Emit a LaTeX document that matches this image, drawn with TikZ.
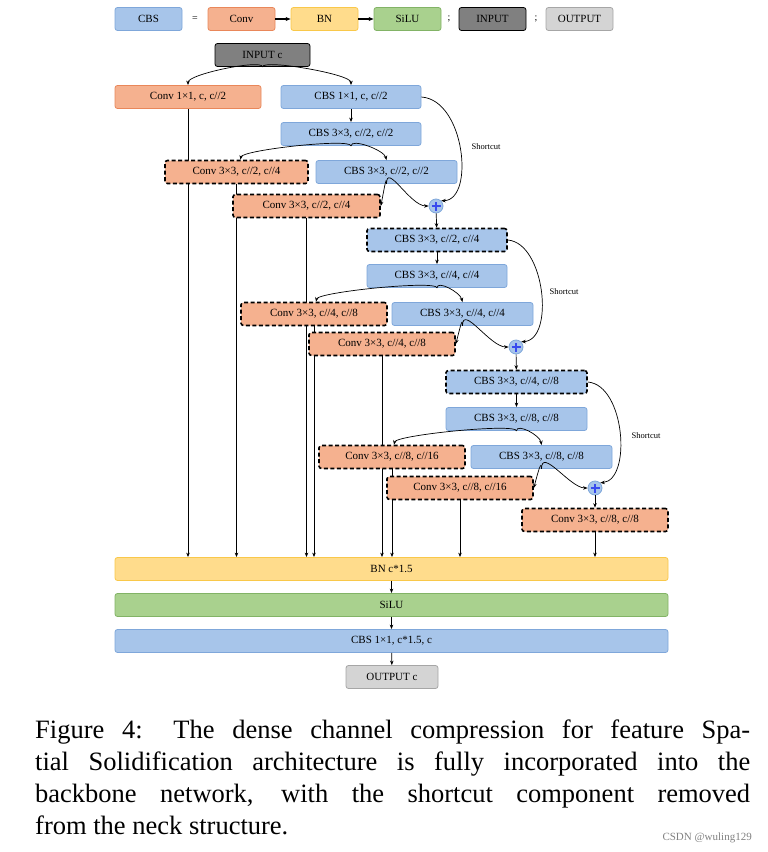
\documentclass[tikz,border=0pt]{standalone}
\usepackage{fontspec}
\setmainfont{Liberation Serif}
\usetikzlibrary{calc,backgrounds,arrows.meta}
\definecolor{bF}{HTML}{A7C5EA}\definecolor{bD}{HTML}{7FA7DA}
\definecolor{oF}{HTML}{F5B18F}\definecolor{oD}{HTML}{E9875A}
\definecolor{yF}{HTML}{FFDC8C}\definecolor{yD}{HTML}{F9C84A}
\definecolor{gF}{HTML}{A9D18E}\definecolor{gD}{HTML}{82B366}
\definecolor{kF}{HTML}{808080}\definecolor{lF}{HTML}{D4D4D4}\definecolor{lD}{HTML}{A6A6A6}
\tikzset{
 box/.style={rounded corners=2.5pt,minimum height=23pt,inner sep=0pt,font=\fontsize{11}{12}\selectfont,line width=0.8pt},
 cbs/.style={box,fill=bF,draw=bD},
 conv/.style={box,fill=oF,draw=oD},
 bn/.style={box,fill=yF,draw=yD},
 silu/.style={box,fill=gF,draw=gD},
 inp/.style={box,fill=kF,draw=black},
 outp/.style={box,fill=lF,draw=lD},
 dsh/.style={draw=black,dashed,dash pattern=on 4pt off 2.5pt,line width=1.6pt},
 arr/.style={-{Stealth[length=4.5pt,width=3.5pt]},line width=0.7pt},
 ln/.style={line width=0.7pt},
 plus/.style={circle,fill=bF,draw=bD,minimum size=14pt,inner sep=0pt,line width=0.8pt,
   path picture={\draw[line width=1.4pt,draw=blue!55!bD]([xshift=-4.5pt]path picture bounding box.center)--([xshift=4.5pt]path picture bounding box.center)
   ([yshift=-4.5pt]path picture bounding box.center)--([yshift=4.5pt]path picture bounding box.center);}},
 lab/.style={font=\fontsize{8.5}{9}\selectfont}
}
\begin{document}
\begin{tikzpicture}[x=1pt,y=-1pt]
\useasboundingbox (0,0) rectangle (768,852);
% legend
\node[cbs,minimum width=67pt] (lc) at (148.5,19) {CBS};
\node (leq) at (195,19) {=};
\node[conv,minimum width=67pt] (lv) at (241.5,19) {Conv};
\node[bn,minimum width=67pt] (lb) at (324.5,19) {BN};
\node[silu,minimum width=67pt] (ls) at (407.5,19) {SiLU};
\node (ls1) at (449,19) {;};
\node[inp,minimum width=67pt] (li) at (492.5,19) {INPUT};
\node (ls2) at (536,19) {;};
\node[outp,minimum width=67pt] (lo) at (579.5,19) {OUTPUT};
\draw[-{Stealth[length=5pt,width=4pt]},line width=1.3pt] (lv) -- (lb);
\draw[-{Stealth[length=5pt,width=4pt]},line width=1.3pt] (lb) -- (ls);
% main
\node[inp,minimum width=95pt] (in) at (262.5,55) {INPUT c};
\node[conv,minimum width=146pt] (c0) at (188,97) {Conv 1×1, c, c//2};
\node[cbs,minimum width=140pt] (s1) at (351,97) {CBS 1×1, c, c//2};
\node[cbs,minimum width=140pt] (s2) at (351,134) {CBS 3×3, c//2, c//2};
\node[conv,dsh,fill=oF,minimum width=143pt] (a1) at (236.5,172) {Conv 3×3, c//2, c//4};
\node[cbs,minimum width=141pt] (s3) at (386.5,172) {CBS 3×3, c//2, c//2};
\node[conv,dsh,fill=oF,minimum width=147pt] (a2) at (306.5,206) {Conv 3×3, c//2, c//4};
\node[plus] (p1) at (436,206) {};
\node[cbs,dsh,fill=bF,minimum width=140pt] (d1) at (437,240) {CBS 3×3, c//2, c//4};
\node[cbs,minimum width=140pt] (s4) at (437,276) {CBS 3×3, c//4, c//4};
\node[conv,dsh,fill=oF,minimum width=146pt] (b1) at (314,314) {Conv 3×3, c//4, c//8};
\node[cbs,minimum width=141pt] (s5) at (462.5,314) {CBS 3×3, c//4, c//4};
\node[conv,dsh,fill=oF,minimum width=146pt] (b2) at (382,344) {Conv 3×3, c//4, c//8};
\node[plus] (p2) at (516,347) {};
\node[cbs,dsh,fill=bF,minimum width=141pt] (d2) at (516.5,382) {CBS 3×3, c//4, c//8};
\node[cbs,minimum width=141pt] (s6) at (516.5,419) {CBS 3×3, c//8, c//8};
\node[conv,dsh,fill=oF,minimum width=146pt] (e1) at (392,457) {Conv 3×3, c//8, c//16};
\node[cbs,minimum width=141pt] (s7) at (541.5,457) {CBS 3×3, c//8, c//8};
\node[conv,dsh,fill=oF,minimum width=146pt] (e2) at (460,488) {Conv 3×3, c//8, c//16};
\node[plus] (p3) at (595,488) {};
\node[conv,dsh,fill=oF,minimum width=146pt] (f) at (595,520) {Conv 3×3, c//8, c//8};
\node[bn,minimum width=553pt] (bn) at (391.5,569) {BN c*1.5};
\node[silu,minimum width=553pt] (si) at (391.5,605) {SiLU};
\node[cbs,minimum width=553pt] (cb) at (391.5,641) {CBS 1×1, c*1.5, c};
\node[outp,minimum width=92pt] (out) at (392,677) {OUTPUT c};
\begin{scope}[on background layer]
\foreach \n in {c0,a1,a2,b1,b2,e1,e2,f}{\draw[arr] (\n.south) -- (\n.south |- bn.north);}
\end{scope}
% top split
\draw[arr] (in.south) .. controls ([yshift=8pt]in.south) and (188,74) .. ([xshift=0pt]c0.north);
\draw[arr] (in.south) .. controls ([yshift=8pt]in.south) and (351,74) .. (s1.north);
\draw[arr] (s1) -- (s2);
% block 1
\draw[arr] (s2.south) .. controls ([yshift=8pt]s2.south) and (242,150) .. ([xshift=4pt]a1.north);
\draw[arr] (s2.south) .. controls ([yshift=8pt]s2.south) and (384,150) .. (s3.north);
\draw[arr] (s3.south) .. controls ([yshift=10pt]s3.south) and (384,190) .. (a2.east);
\draw[arr] (s3.south) .. controls ([yshift=22pt]s3.south) and (410,206) .. (p1.west);
\draw[arr] (s1.east) .. controls (465,100) and (475,200) .. (p1.north east);
\node[lab] (sc1) at (486,147) {Shortcut};
\draw[arr] (p1) -- (d1);
% block 2
\draw[arr] (d1) -- (s4);
\draw[arr] (s4.south) .. controls ([yshift=8pt]s4.south) and (318,292) .. ([xshift=2pt]b1.north);
\draw[arr] (s4.south) .. controls ([yshift=8pt]s4.south) and (460,292) .. (s5.north);
\draw[arr] (s5.south) .. controls ([yshift=10pt]s5.south) and (460,328) .. (b2.east);
\draw[arr] (s5.south) .. controls ([yshift=22pt]s5.south) and (490,347) .. (p2.west);
\draw[arr] (d1.east) .. controls (545,243) and (555,340) .. (p2.north east);
\node[lab] (sc2) at (564,292) {Shortcut};
\draw[arr] (p2) -- (d2);
% block 3
\draw[arr] (d2) -- (s6);
\draw[arr] (s6.south) .. controls ([yshift=8pt]s6.south) and (396,435) .. ([xshift=2pt]e1.north);
\draw[arr] (s6.south) .. controls ([yshift=8pt]s6.south) and (540,435) .. (s7.north);
\draw[arr] (s7.south) .. controls ([yshift=10pt]s7.south) and (538,472) .. (e2.east);
\draw[arr] (s7.south) .. controls ([yshift=22pt]s7.south) and (570,488) .. (p3.west);
\draw[arr] (d2.east) .. controls (625,385) and (632,480) .. (p3.north east);
\node[lab] (sc3) at (646,436) {Shortcut};
\draw[arr] (p3) -- (f);
% bottom
\draw[arr] (bn) -- (si);
\draw[arr] (si) -- (cb);
\draw[arr] (cb) -- (out);
% caption
\node[anchor=north west,inner sep=0pt,text width=715pt,align=justify,font=\fontsize{26.5}{32}\selectfont] (cap) at (35,720)
{Figure 4: The dense channel compression for feature Spa-\linebreak tial Solidification architecture is fully incorporated into the\linebreak backbone network, with the shortcut component removed\linebreak from the neck structure.};
\node[anchor=south east,inner sep=0pt,text=gray,font=\fontsize{11}{12}\selectfont] (wm) at (752,843) {CSDN @wuling129};
\end{tikzpicture}
\end{document}
